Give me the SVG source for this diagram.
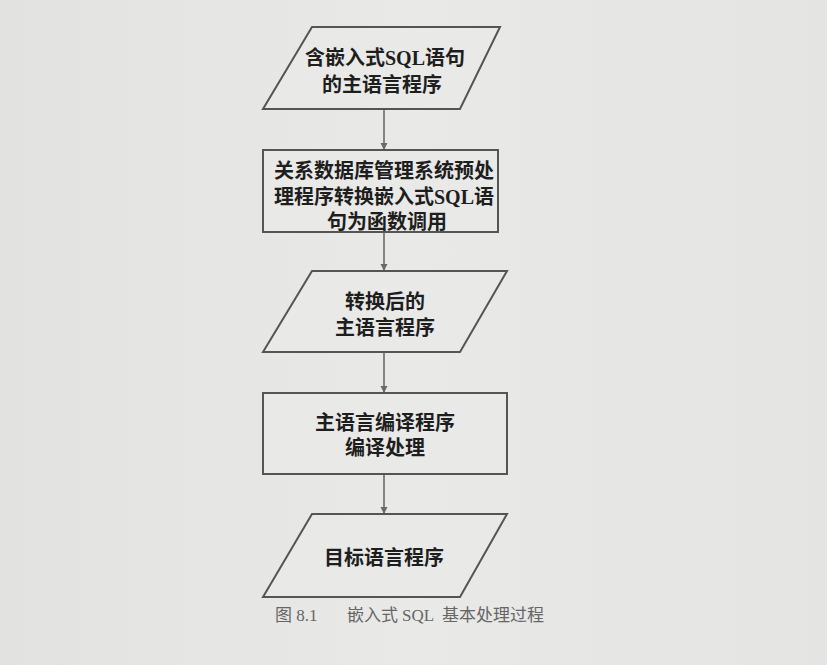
<svg xmlns="http://www.w3.org/2000/svg" width="827" height="665" viewBox="0 0 827 665">
<defs>
<style>
.shape{fill:#e9e9e7;stroke:#555;stroke-width:2}
.t{font-family:"Liberation Serif","Noto Sans CJK SC",serif;font-size:20px;font-weight:bold;fill:#1e1e1e;text-anchor:middle}
.cap{font-family:"Liberation Serif","Noto Sans CJK SC",serif;font-size:17px;fill:#666}
.conn{stroke:#6a6a6a;stroke-width:1.6;fill:none;marker-end:url(#ah)}
</style>
<marker id="ah" viewBox="0 0 10 10" refX="10" refY="5" markerWidth="7" markerHeight="9" markerUnits="userSpaceOnUse" orient="auto">
<path d="M0,0 L10,5 L0,10 z" fill="#6a6a6a"/>
</marker>
<linearGradient id="bg" x1="0" y1="0" x2="1" y2="0">
<stop offset="0" stop-color="#e2e2e0"/>
<stop offset="0.5" stop-color="#e9e9e7"/>
<stop offset="1" stop-color="#e4e4e2"/>
</linearGradient>
</defs>
<rect width="827" height="665" fill="url(#bg)"/>
<g id="connectors">
<line class="conn" x1="384" y1="109" x2="384" y2="150"/>
<line class="conn" x1="384" y1="232" x2="384" y2="271"/>
<line class="conn" x1="384" y1="352" x2="384" y2="393"/>
<line class="conn" x1="384" y1="474" x2="384" y2="514"/>
</g>
<g id="n1">
<polygon class="shape" points="312,27 500,27 460,109 263,109"/>
<text class="t" x="385" y="65">含嵌入式SQL语句</text>
<text class="t" x="382" y="92">的主语言程序</text>
</g>
<g id="n2">
<rect class="shape" x="263" y="150" width="235" height="82"/>
<text class="t" x="384" y="178">关系数据库管理系统预处</text>
<text class="t" x="384" y="204">理程序转换嵌入式SQL语</text>
<text class="t" x="387" y="229">句为函数调用</text>
</g>
<g id="n3">
<polygon class="shape" points="312,271 507,271 460,352 263,352"/>
<text class="t" x="385" y="309">转换后的</text>
<text class="t" x="385" y="335">主语言程序</text>
</g>
<g id="n4">
<rect class="shape" x="263" y="393" width="244" height="81"/>
<text class="t" x="385" y="430">主语言编译程序</text>
<text class="t" x="385" y="455">编译处理</text>
</g>
<g id="n5">
<polygon class="shape" points="312,514 507,514 460,597 263,597"/>
<text class="t" x="384" y="565">目标语言程序</text>
</g>
<text class="cap" y="621"><tspan x="275">图 8.1</tspan><tspan x="347">嵌入式</tspan><tspan x="402">SQL</tspan><tspan x="442">基本处理过程</tspan></text>
</svg>
